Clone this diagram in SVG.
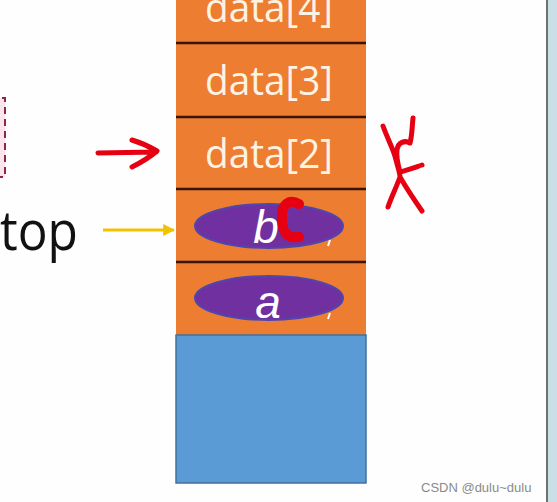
<svg xmlns="http://www.w3.org/2000/svg" width="557" height="502" viewBox="0 0 557 502">
<style>
.cell{font-family:"Open Sans","Liberation Sans",Arial,sans-serif;font-size:40px;fill:#fdf3e3;text-anchor:middle}
.div{stroke:#3b1406;stroke-width:2.5}
.ell{fill:#7030a0;stroke:#5046b0;stroke-width:2}
.ital{font-family:"Liberation Sans",Arial,sans-serif;font-style:italic;font-size:46px;fill:#ffffff;text-anchor:middle}
.ink{fill:none;stroke:#e60012;stroke-linecap:round;stroke-linejoin:round}
</style>
<defs>
<marker id="ya" viewBox="0 0 10 10" refX="9" refY="5" markerWidth="4" markerHeight="4" orient="auto"><path d="M0,0 L10,5 L0,10 z" fill="#f2c100"/></marker>
</defs>
<rect width="557" height="502" fill="#fefefe"/>
<rect x="548" y="0" width="9" height="502" fill="#c8e0e6"/>
<line x1="547" y1="0" x2="547" y2="502" stroke="#707070" stroke-width="2"/>
<g id="dashbox">
<rect x="-10" y="98" width="15" height="79" fill="#fbe4ea" stroke="#8a2848" stroke-width="2" stroke-dasharray="7,5"/>
</g>
<g id="stack">
<rect x="176" y="-2" width="190" height="337" fill="#ed7d31"/>
<rect x="176" y="335" width="190" height="148" fill="#5b9bd5" stroke="#41719c" stroke-width="1.5"/>
<line class="div" x1="176" y1="43" x2="366" y2="43"/>
<line class="div" x1="176" y1="117" x2="366" y2="117"/>
<line class="div" x1="176" y1="189" x2="366" y2="189"/>
<line class="div" x1="176" y1="262" x2="366" y2="262"/>
</g>
<g id="cell4"><text class="cell" x="269" y="22" textLength="128" lengthAdjust="spacingAndGlyphs">data[4]</text></g>
<g id="cell3"><text class="cell" x="269" y="95" textLength="128" lengthAdjust="spacingAndGlyphs">data[3]</text></g>
<g id="cell2"><text class="cell" x="269" y="168" textLength="128" lengthAdjust="spacingAndGlyphs">data[2]</text></g>
<g id="cellb">
<ellipse class="ell" cx="269" cy="226" rx="74" ry="22"/>
<text class="ital" x="266" y="243">b</text>
<path d="M330 240 l-2 6" stroke="#fff" stroke-width="2"/>
<path class="ink" stroke-width="10" d="M299 204 C289 198 281 205 282 218 C282 232 287 239 299 237"/>
</g>
<g id="cella">
<ellipse class="ell" cx="269" cy="298" rx="74" ry="22"/>
<text class="ital" x="268" y="318">a</text>
<path d="M330 313 l-2 6" stroke="#fff" stroke-width="2"/>
</g>
<g id="toplabel">
<text x="0" y="250" font-family="Open Sans,Liberation Sans,Arial,sans-serif" font-size="54" fill="#111" textLength="78" lengthAdjust="spacingAndGlyphs">top</text>
</g>
<g id="connectors">
<line x1="103" y1="230" x2="174" y2="230" stroke="#f2c100" stroke-width="3" marker-end="url(#ya)"/>
<path class="ink" stroke-width="5" d="M98 153 L156 152 M132 140 C145 144 152 148 157 151 C150 157 140 163 132 167"/>
</g>
<g id="xmark">
<path class="ink" stroke-width="5" d="M383 126 C388 140 394 150 396 160 C398 168 400 173 400 177 C396 188 391 198 388 207 M413 118 C412 128 412 136 410 143 C405 140 398 142 397 150 C396 157 398 165 400 172 C408 170 416 167 422 165 M400 177 C407 189 415 201 422 211"/>
</g>
<text x="421" y="492" font-family="Liberation Sans,Arial,sans-serif" font-size="13" fill="#8a8a8a">CSDN @dulu~dulu</text>
</svg>
